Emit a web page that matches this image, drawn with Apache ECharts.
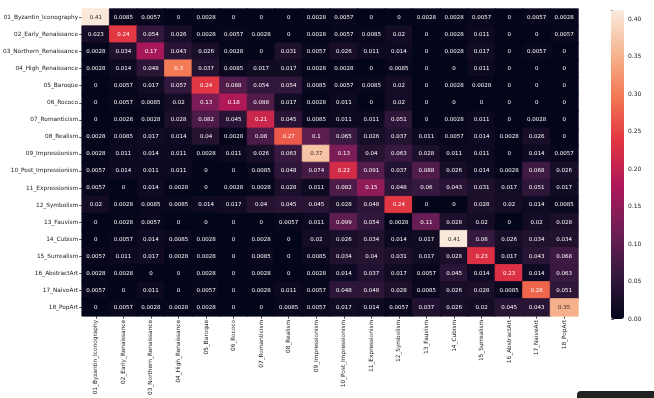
<!DOCTYPE html>
<html>
<head>
<meta charset="utf-8">
<script src="https://cdn.jsdelivr.net/npm/echarts@6/dist/echarts.min.js"></script>
<style>
  html, body { margin: 0; padding: 0; background: #fff; }
  #chart { width: 654px; height: 398px; }
</style>
</head>
<body>
<div id="chart"></div>
<script>
var categories = [
  "01_Byzantin_Iconography", "02_Early_Renaissance", "03_Northern_Renaissance",
  "04_High_Renaissance", "05_Baroque", "06_Rococo", "07_Romanticism", "08_Realism",
  "09_Impressionism", "10_Post_Impressionism", "11_Expressionism", "12_Symbolism",
  "13_Fauvism", "14_Cubism", "15_Surrealism", "16_AbstractArt", "17_NaiveArt", "18_PopArt"
];

// rows = true class, columns = predicted class
var matrix = [
  [0.41, 0.0085, 0.0057, 0, 0.0028, 0, 0, 0, 0.0028, 0.0057, 0, 0, 0.0028, 0.0028, 0.0057, 0, 0.0057, 0.0028],
  [0.023, 0.24, 0.054, 0.026, 0.0028, 0.0057, 0.0028, 0, 0.0028, 0.0057, 0.0085, 0.02, 0, 0.0028, 0.011, 0, 0, 0.0057],
  [0.0028, 0.034, 0.17, 0.043, 0.026, 0.0028, 0, 0.031, 0.0057, 0.026, 0.011, 0.014, 0, 0.0028, 0.017, 0, 0.0057, 0],
  [0.0028, 0.014, 0.048, 0.3, 0.037, 0.0085, 0.017, 0.017, 0.0028, 0.0028, 0, 0.0085, 0, 0, 0.011, 0, 0, 0],
  [0, 0.0057, 0.017, 0.057, 0.24, 0.088, 0.054, 0.054, 0.0085, 0.0057, 0.0085, 0.02, 0, 0.0028, 0.0028, 0, 0, 0],
  [0, 0.0057, 0.0085, 0.02, 0.13, 0.18, 0.088, 0.017, 0.0028, 0.011, 0, 0.02, 0, 0, 0, 0, 0, 0],
  [0, 0.0028, 0.0028, 0.028, 0.082, 0.045, 0.21, 0.045, 0.0085, 0.011, 0.011, 0.051, 0, 0.0028, 0.011, 0, 0.0028, 0],
  [0.0028, 0.0085, 0.017, 0.014, 0.04, 0.0028, 0.08, 0.27, 0.1, 0.065, 0.026, 0.037, 0.011, 0.0057, 0.014, 0.0028, 0.026, 0],
  [0.0028, 0.011, 0.014, 0.011, 0.0028, 0.011, 0.026, 0.063, 0.37, 0.13, 0.04, 0.063, 0.028, 0.011, 0.011, 0, 0.014, 0.0057],
  [0.0057, 0.014, 0.011, 0.011, 0, 0, 0.0085, 0.048, 0.074, 0.22, 0.091, 0.037, 0.088, 0.026, 0.014, 0.0028, 0.068, 0.026],
  [0.0057, 0, 0.014, 0.0028, 0, 0.0028, 0.0028, 0.028, 0.011, 0.082, 0.15, 0.048, 0.06, 0.043, 0.031, 0.017, 0.051, 0.017],
  [0.02, 0.0028, 0.0085, 0.0085, 0.014, 0.017, 0.04, 0.045, 0.045, 0.028, 0.048, 0.24, 0, 0, 0.028, 0.02, 0.014, 0.0085],
  [0, 0.0028, 0.0057, 0, 0, 0, 0, 0.0057, 0.011, 0.099, 0.054, 0.0028, 0.11, 0.028, 0.02, 0, 0.02, 0.028],
  [0, 0.0057, 0.014, 0.0085, 0.0028, 0, 0.0028, 0, 0.02, 0.026, 0.034, 0.014, 0.017, 0.41, 0.06, 0.026, 0.034, 0.034],
  [0.0057, 0.011, 0.017, 0.0028, 0.0028, 0, 0.0085, 0, 0.0085, 0.034, 0.04, 0.031, 0.017, 0.028, 0.23, 0.017, 0.043, 0.068],
  [0.0028, 0.0028, 0, 0, 0.0028, 0, 0.0028, 0, 0.0028, 0.014, 0.037, 0.017, 0.0057, 0.045, 0.014, 0.23, 0.014, 0.063],
  [0.0057, 0, 0.011, 0, 0.0057, 0, 0.0028, 0.011, 0.0057, 0.048, 0.048, 0.028, 0.0085, 0.026, 0.028, 0.0085, 0.28, 0.051],
  [0, 0.0057, 0.0028, 0.0028, 0.0028, 0, 0, 0.0085, 0.0057, 0.017, 0.014, 0.0057, 0.037, 0.026, 0.02, 0.045, 0.043, 0.35]
];

var colorbarTicks = [0, 0.05, 0.1, 0.15, 0.2, 0.25, 0.3, 0.35, 0.4];

// seaborn "rocket"
var rocket = ['#03051a', '#35193e', '#701f57', '#ad1759', '#e13342', '#f37651', '#f6b48f', '#faebdd'];

var vmax = 0.412;
var font = "'DejaVu Sans', sans-serif";

// same colour as the visualMap gives, used for a hairline border that hides the seams between cells
function cellColor(v) {
  var t = Math.max(0, Math.min(1, v / vmax)) * (rocket.length - 1);
  var i = Math.min(Math.floor(t), rocket.length - 2);
  var f = t - i;
  var a = echarts.color.parse(rocket[i]), b = echarts.color.parse(rocket[i + 1]);
  return 'rgb(' + Math.round(a[0] + (b[0] - a[0]) * f) + ',' +
    Math.round(a[1] + (b[1] - a[1]) * f) + ',' +
    Math.round(a[2] + (b[2] - a[2]) * f) + ')';
}

var cells = [];
for (var r = 0; r < matrix.length; r++) {
  for (var c = 0; c < matrix[r].length; c++) {
    var v = matrix[r][c];
    var item = { value: [c, r, v], itemStyle: { borderColor: cellColor(v), borderWidth: 0.8 } };
    if (v >= 0.33) item.label = { color: '#262626' };   // dark text on the light cells
    cells.push(item);
  }
}

var chart = echarts.init(document.getElementById('chart'));

var option = {
  animation: false,
  backgroundColor: '#ffffff',
  textStyle: { fontFamily: font },
  grid: [
    { left: 81, top: 9, width: 497, height: 310 },
    { left: 611, top: 10, width: 13, height: 309 }
  ],
  xAxis: [{
    type: 'category',
    data: categories,
    gridIndex: 0,
    position: 'bottom',
    axisLine: { show: false },
    axisTick: { show: true, alignWithLabel: true, length: 3, lineStyle: { color: '#333', width: 0.8 } },
    axisLabel: { rotate: 90, fontSize: 5.8, color: '#222', margin: 4, interval: 0, fontFamily: font },
    splitLine: { show: false },
    splitArea: { show: false }
  }, {
    type: 'value',
    gridIndex: 1,
    show: false
  }],
  yAxis: [{
    type: 'category',
    data: categories,
    gridIndex: 0,
    inverse: true,
    axisLine: { show: false },
    axisTick: { show: true, alignWithLabel: true, length: 3, lineStyle: { color: '#333', width: 0.8 } },
    axisLabel: { fontSize: 5.8, color: '#222', margin: 4, interval: 0, fontFamily: font },
    splitLine: { show: false },
    splitArea: { show: false }
  }, {
    type: 'value',
    gridIndex: 1,
    position: 'right',
    min: 0,
    max: vmax,
    interval: 0.05,
    axisLine: { show: false },
    axisTick: { show: true, length: 3, lineStyle: { color: '#333', width: 0.8 } },
    axisLabel: {
      fontSize: 6, color: '#222', margin: 4, fontFamily: font,
      formatter: function (v) { return colorbarTicks.indexOf(Math.round(v * 100) / 100) >= 0 ? v.toFixed(2) : ''; }
    },
    splitLine: { show: false }
  }],
  visualMap: {
    type: 'continuous',
    min: 0,
    max: vmax,
    seriesIndex: 0,
    calculable: false,
    orient: 'vertical',
    left: 611,
    top: 10,
    itemWidth: 13,
    itemHeight: 309,
    padding: 0,
    text: ['', ''],
    showLabel: false,
    hoverLink: false,
    inRange: { color: rocket }
  },
  series: [{
    type: 'heatmap',
    xAxisIndex: 0,
    yAxisIndex: 0,
    data: cells,
    label: {
      show: true,
      fontSize: 5.5,
      fontFamily: font,
      formatter: function (p) { return String(p.value[2]); },
      color: '#ffffff'
    },
    emphasis: { disabled: true }
  }],
  graphic: [{
    type: 'rect',
    left: 577,
    top: 391,
    shape: { width: 82, height: 12, r: 4 },
    style: { fill: '#222222' }
  }]
};

chart.setOption(option);
</script>
</body>
</html>
